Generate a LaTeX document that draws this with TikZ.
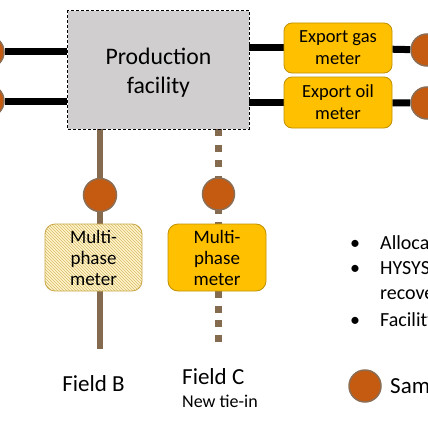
\documentclass[tikz,border=0pt]{standalone}
\usepackage{fontspec}
\setmainfont{Carlito}
\usetikzlibrary{patterns,backgrounds}
\definecolor{sampleC}{HTML}{C55A11}
\definecolor{sampleB}{HTML}{8C6E55}
\definecolor{pipeC}{HTML}{846A4E}
\definecolor{meterF}{HTML}{FFC000}
\definecolor{meterD}{HTML}{BF9000}
\definecolor{hatchF}{HTML}{FFF4CC}
\definecolor{hatchL}{HTML}{D6BC68}
\definecolor{hatchD}{HTML}{C9A84A}
\definecolor{facF}{HTML}{D0CECE}
\tikzset{
  facbox/.style={draw=black, fill=facF, dash pattern=on 3pt off 2pt, line width=0.8pt,
    inner sep=0pt, minimum width=181.3pt, minimum height=118.3pt},
  factext/.style={inner sep=0pt, align=center, font=\fontsize{23.7}{29}\selectfont},
  exbox/.style={draw=meterD, fill=meterF, rounded corners=8pt, line width=0.8pt,
    inner sep=0pt, minimum width=108pt, minimum height=50pt, align=center,
    font=\fontsize{18.5}{22}\selectfont},
  mpbox/.style={rounded corners=10pt, line width=0.8pt,
    inner sep=0pt, minimum width=97pt, minimum height=67pt, align=center,
    font=\fontsize{19}{21}\selectfont},
  sample/.style={circle, fill=sampleC, draw=sampleB, line width=1.5pt,
    inner sep=0pt, minimum size=32pt},
  blackpipe/.style={line width=7pt, black},
  brownpipe/.style={line width=6.5pt, pipeC},
  lbl/.style={inner sep=0pt, anchor=base},
  bul/.style={inner sep=0pt, anchor=base west, font=\fontsize{20}{24}\selectfont},
}
\begin{document}
\begin{tikzpicture}[x=1pt,y=-1pt]
\useasboundingbox (0,0) rectangle (428,428);
\clip (0,0) rectangle (428,428);

% nodes
\node[facbox] (prod) at (158.4,69.9) {};
\node[factext] (prodt) at ([yshift=-3pt]prod.center) {Production\\facility};
\node[exbox] (gas) at (338,48) {Export gas\\meter};
\node[exbox, minimum height=51pt] (oil) at (338,102.5) {Export oil\\meter};
\node[mpbox, draw=hatchD, preaction={fill=hatchF}, pattern=north west lines, pattern color=hatchL] (mpB) at (93.5,257.5) {Multi-\\phase\\meter};
\node[mpbox, draw=meterD, fill=meterF, minimum width=98pt] (mpC) at (217,257.5) {Multi-\\phase\\meter};

\node[sample] (lg1) at (-12,52) {};
\node[sample] (lg2) at (-12,101) {};
\node[sample] (rg1) at (427,50) {};
\node[sample] (rg2) at (427,103) {};
\node[sample, minimum size=33pt] (sB) at (100,195) {};
\node[sample] (sC) at (218.5,194) {};
\node[sample] (leg) at (365,386) {};

\coordinate (endB) at (100,349);
\coordinate (endC) at (218.5,342);

% connectors
\begin{scope}[on background layer]
  \draw[blackpipe] (lg1) -- (prod.west |- lg1);
  \draw[blackpipe] (lg2) -- (prod.west |- lg2);
  \draw[blackpipe] (prod.east |- gas) -- (gas);
  \draw[blackpipe] (gas) -- (rg1);
  \draw[blackpipe] (prod.east |- oil) -- (oil);
  \draw[blackpipe] (oil) -- (rg2);
  \draw[brownpipe] (prod.south -| sB) -- (endB);
  \draw[brownpipe, dash pattern=on 7pt off 8.5pt] (prod.south -| sC) -- (mpC.north -| sC);
  \draw[brownpipe, dash pattern=on 7pt off 7.5pt] (mpC.south -| sC) -- (endC);
\end{scope}

% labels
\node[lbl, font=\fontsize{23}{27}\selectfont] (fB) at (93.5,391.5) {Field B};
\node[lbl, anchor=base west, font=\fontsize{23}{27}\selectfont] (fC) at (182,384.5) {Field C};
\node[lbl, anchor=base west, font=\fontsize{18}{22}\selectfont] (fCn) at (182,407) {New tie-in};

\node[bul] (b1) at (350,249) {•};
\node[bul] (t1) at (380,249) {Allocation};
\node[bul] (b2) at (350,274.5) {•};
\node[bul] (t2) at (380,274.5) {HYSYS};
\node[bul] (t2b) at (380,299) {recovery};
\node[bul] (b3) at (350,326) {•};
\node[bul] (t3) at (380,326) {Facility};

\node[lbl, anchor=base west, font=\fontsize{23}{27}\selectfont] (legt) at (390,393.5) {Sample point};
\end{tikzpicture}
\end{document}
